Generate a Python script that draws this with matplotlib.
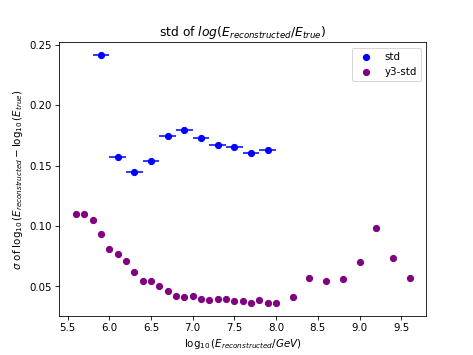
import numpy as np
import matplotlib.pyplot as plt

# std en bins anchos
x_std = [5.9, 6.1, 6.3, 6.5, 6.7, 6.9, 7.1, 7.3, 7.5, 7.7, 7.9]
y_std = [0.2417, 0.1571, 0.1450, 0.1535, 0.1743, 0.1798, 0.1732, 0.1671, 0.1652, 0.1608, 0.1627]
xerr_std = 0.1

# y3-std
x_y3 = [5.6, 5.7, 5.8, 5.9, 6.0, 6.1, 6.2, 6.3, 6.4, 6.5, 6.6, 6.7, 6.8, 6.9, 7.0,
        7.1, 7.2, 7.3, 7.4, 7.5, 7.6, 7.7, 7.8, 7.9, 8.0,
        8.2, 8.4, 8.6, 8.8, 9.0, 9.2, 9.4, 9.6]
y_y3 = [0.1099, 0.1096, 0.1049, 0.0936, 0.0808, 0.0764, 0.0706, 0.0622, 0.0546, 0.0546,
        0.0504, 0.0460, 0.0424, 0.0413, 0.0419, 0.0394, 0.0383, 0.0394, 0.0394, 0.0377,
        0.0377, 0.0358, 0.0383, 0.0363, 0.0358,
        0.0413, 0.0565, 0.0543, 0.0560, 0.0701, 0.0983, 0.0737, 0.0565]

plt.figure(figsize=(6.4, 4.8), dpi=74)
plt.errorbar(x_std, y_std, xerr=xerr_std, fmt='none', ecolor='blue')
plt.scatter(x_std, y_std, color='blue', label='std')
plt.scatter(x_y3, y_y3, color='purple', label='y3-std')
plt.title(r'std of $log(E_{reconstructed}/E_{true})$')
plt.xlabel(r'$\log_{10}(E_{reconstructed}/GeV)$')
plt.ylabel(r'$\sigma$ of $\log_{10}(E_{reconstructed} - \log_{10}(E_{true})$')
plt.legend()
plt.savefig('out.png')
